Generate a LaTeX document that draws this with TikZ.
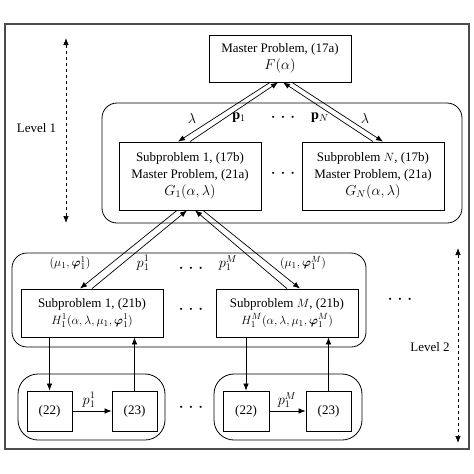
\documentclass[tikz,border=0pt]{standalone}
\usepackage{amsmath}
\usepackage{fontspec}
\setmainfont{Liberation Serif}
\usetikzlibrary{arrows.meta,calc}
\newcommand\mth[1]{{\fontsize{14.2}{17}\selectfont$#1$}}
\begin{document}
\begin{tikzpicture}[x=1pt,y=-1pt,
  font=\fontsize{13}{17}\selectfont,
  blk/.style={draw, line width=0.8pt, inner sep=0pt, align=center},
  grp/.style={draw, line width=0.8pt, rounded corners=#1},
  arr/.style={-{Latex[length=7pt,width=5.5pt]}, line width=0.7pt},
  lvl/.style={{Latex[length=7pt,width=5.5pt]}-{Latex[length=7pt,width=5.5pt]}, dashed, line width=0.7pt},
  lbl/.style={inner sep=0pt},
  dots/.style={inner sep=0pt, font=\fontsize{22}{22}\selectfont}
]
\useasboundingbox (0,0) rectangle (474,474);
% outer frame
\draw[draw=black!70, line width=1.2pt] (5,24) rectangle (469,449);
% group boxes
\draw[grp=15pt] (102,103) rectangle (462,223);
\draw[grp=15pt] (12,253) rectangle (366,347);
\draw[grp=20pt] (18,374) rectangle (165,440);
\draw[grp=20pt] (214,374) rectangle (362,440);
% boxes
\node[blk, minimum width=142pt, minimum height=47pt] (master) at (280,58.5) {Master Problem, (17a)\\ \mth{F(\alpha)}};
\node[blk, minimum width=142pt, minimum height=68pt] (s1a) at (190,176) {Subproblem 1, (17b)\\ Master Problem, (21a)\\ \mth{G_1(\alpha,\lambda)}};
\node[blk, minimum width=142pt, minimum height=68pt] (sNa) at (373,176) {Subproblem $N$, (17b)\\ Master Problem, (21a)\\ \mth{G_N(\alpha,\lambda)}};
\node[blk, minimum width=142pt, minimum height=48pt] (s1b) at (92,313) {Subproblem 1, (21b)\\ $H_1^1(\alpha,\lambda,\mu_1,\boldsymbol{\varphi}_1^1)$};
\node[blk, minimum width=142pt, minimum height=48pt] (sMb) at (287,313) {Subproblem $M$, (21b)\\ $H_1^M(\alpha,\lambda,\mu_1,\boldsymbol{\varphi}_1^M)$};
\node[blk, minimum width=45pt, minimum height=40pt] (b22l) at (49.5,411) {(22)};
\node[blk, minimum width=45pt, minimum height=40pt] (b23l) at (134.5,411) {(23)};
\node[blk, minimum width=46pt, minimum height=40pt] (b22r) at (246,411) {(22)};
\node[blk, minimum width=45pt, minimum height=40pt] (b23r) at (328.5,411) {(23)};
% level 1 arrows
\draw[arr] ([xshift=-10pt]master.south) -- ([xshift=-12pt]s1a.north);
\draw[arr] (s1a.north) -- ([xshift=-2pt]master.south);
\draw[arr] (sNa.north) -- ([xshift=3pt]master.south);
\draw[arr] ([xshift=12pt]master.south) -- ([xshift=10pt]sNa.north);
% level 2 arrows
\draw[arr] ([xshift=-13pt]s1a.south) -- ([xshift=-12pt]s1b.north);
\draw[arr] (s1b.north) -- ([xshift=-3pt]s1a.south);
\draw[arr] (sMb.north) -- ([xshift=5pt]s1a.south);
\draw[arr] ([xshift=13pt]s1a.south) -- ([xshift=13pt]sMb.north);
% vertical
\draw[arr] (b22l.north |- s1b.south) -- (b22l.north);
\draw[arr] (b23l.north) -- (b23l.north |- s1b.south);
\draw[arr] (b22r.north |- sMb.south) -- (b22r.north);
\draw[arr] (b23r.north) -- (b23r.north |- sMb.south);
\draw[arr] (b22l.east) -- (b23l.west);
\draw[arr] (b22r.east) -- (b23r.west);
% labels
\node[lbl] (la1) at (192,118) {\mth{\lambda}};
\node[lbl] (lp1) at (239,118) {\mth{\mathbf{p}_1}};
\node[lbl] (lpN) at (320,118) {\mth{\mathbf{p}_N}};
\node[lbl] (la2) at (365,118) {\mth{\lambda}};
\node[lbl] (lm1) at (70,263) {$(\mu_1,\boldsymbol{\varphi}_1^1)$};
\node[lbl] (lq1) at (143,263) {\mth{p_1^1}};
\node[lbl] (lqM) at (228,263) {\mth{p_1^M}};
\node[lbl] (lmM) at (303,263) {$(\mu_1,\boldsymbol{\varphi}_1^M)$};
\node[lbl] (lb1) at (89,400) {\mth{p_1^1}};
\node[lbl] (lbM) at (287,400) {\mth{p_1^M}};
% dots
\foreach \n/\p in {d1/{(283,118)}, d2/{(283,174)}, d3/{(191,269)}, d4/{(191,310)}, d5/{(191,408)}, d6/{(400,300)}}
  \node[dots] (\n) at \p {$\cdot$\hspace{4pt}$\cdot$\hspace{4pt}$\cdot$};
% levels
\node (lev1) at (36.5,128) {Level 1};
\node (lev2) at (430,347) {Level 2};
\coordinate (l1t) at (66,38);
\coordinate (l1b) at (66,223);
\coordinate (l2t) at (458,248);
\coordinate (l2b) at (458,443);
\draw[lvl] (l1t) -- (l1b);
\draw[lvl] (l2t) -- (l2b);
\end{tikzpicture}
\end{document}
